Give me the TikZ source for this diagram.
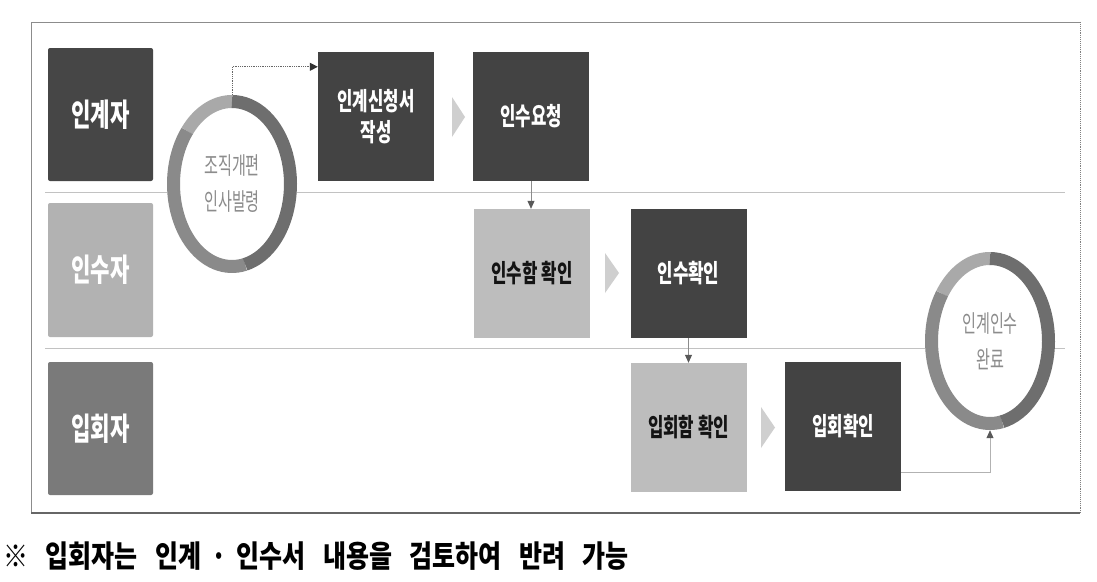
\documentclass[tikz,border=0pt]{standalone}
\usepackage{fontspec}
\newfontfamily\kr{Noto Sans CJK KR}
\usetikzlibrary{shapes.geometric,arrows.meta}
\definecolor{lanedark}{HTML}{464646}
\definecolor{lanelight}{HTML}{B2B2B2}
\definecolor{lanemid}{HTML}{7A7A7A}
\definecolor{boxdark}{HTML}{434343}
\definecolor{boxlight}{HTML}{BDBDBD}
\definecolor{ringlight}{HTML}{A9A9A9}
\definecolor{ringmid}{HTML}{8A8A8A}
\definecolor{ringdark}{HTML}{6E6E6E}
\definecolor{circtext}{HTML}{8C8C8C}
\definecolor{chev}{HTML}{CFCFCF}
\definecolor{divgray}{HTML}{C2C2C2}
\newcommand{\cnd}[2][0.67]{\scalebox{#1}[1]{#2}}
\newcommand{\ringseg}[5]{\draw[line width=13pt,#5] plot[domain=#3:#4,samples=40,variable=\t] ({#1+58.5*cos(\t)},{#2-82.5*sin(\t)});}
\tikzset{
  lanebox/.style={rectangle,rounded corners=2pt,minimum width=105pt,minimum height=133pt,inner sep=0pt,text=white,font=\kr\bfseries\fontsize{31.5}{36}\selectfont},
  procbox/.style={rectangle,minimum width=116pt,minimum height=129pt,inner sep=0pt,align=center,font=\kr\bfseries\fontsize{25}{31}\selectfont},
  darkbox/.style={procbox,fill=boxdark,text=white},
  lightbox/.style={procbox,fill=boxlight,text=black!92},
  circ/.style={ellipse,minimum width=130pt,minimum height=178pt,inner sep=0pt,fill=white,align=center,text=circtext,font=\kr\fontsize{24}{36}\selectfont},
  divider/.style={draw=divgray,line width=1pt},
  chevron/.style={fill=chev},
  dotarrow/.style={densely dotted,draw=black!60,line width=0.8pt,-{Triangle[length=8pt,width=8pt,color=black!80]}},
  flow/.style={draw=black!45,line width=0.8pt,-{Triangle[length=8pt,width=7pt,color=black!65]}},
}
\begin{document}
\begin{tikzpicture}[x=1pt,y=-1pt]
\useasboundingbox (0,0) rectangle (1097,581);
\fill[white] (0,0) rectangle (1097,581);
% frame
\draw[black!45,line width=0.9pt] (1080,22) -- (31,22) -- (31,513);
\draw[black!60,line width=1.3pt] (31,513) -- (1080,513);
\draw[black!50,densely dotted,line width=0.9pt] (1080,22) -- (1080,513);
% lane dividers
\draw[divider] (45,192) -- (1065,192);
\draw[divider] (45,348) -- (1065,348);
% lane labels
\node[lanebox,fill=lanedark] (l1) at (100.5,114.5) {\cnd{인계자}};
\node[lanebox,fill=lanelight,minimum height=134pt] (l2) at (100.5,270) {\cnd{인수자}};
\node[lanebox,fill=lanemid] (l3) at (100.5,428.5) {\cnd{입회자}};
% process boxes
\node[darkbox] (b1) at (376,116.5) {\cnd{인계신청서}\\\cnd{작성}};
\node[darkbox] (b2) at (531,116.5) {\cnd{인수요청}};
\node[lightbox] (b3) at (532,273.5) {\cnd{인수함 확인}};
\node[darkbox] (b4) at (688.5,273.5) {\cnd{인수확인}};
\node[lightbox] (b5) at (688.5,427.5) {\cnd{입회함 확인}};
\node[darkbox] (b6) at (843,426) {\cnd{입회확인}};
% chevrons
\fill[chevron] (452,97) -- (465,117) -- (452,137) -- cycle;
\fill[chevron] (605,253) -- (619,273) -- (605,293) -- cycle;
\fill[chevron] (761,407) -- (775,427.5) -- (761,448) -- cycle;
% circles
\node[circ] (c1) at (232,184) {\cnd[0.63]{조직개편}\\\cnd[0.63]{인사발령}};
\ringseg{232}{184}{90}{140}{ringlight}
\ringseg{232}{184}{140}{283}{ringmid}
\ringseg{232}{184}{283}{450}{ringdark}
\node[circ] (c2) at (990,341) {\cnd[0.63]{인계인수}\\\cnd[0.63]{완료}};
\ringseg{990}{341}{90}{145}{ringlight}
\ringseg{990}{341}{145}{282}{ringmid}
\ringseg{990}{341}{282}{450}{ringdark}
% connectors
\draw[dotarrow] (c1.north) |- ([yshift=-15pt]b1.north west);
\draw[flow] (b2.south) -- (b3.north -| b2.south);
\draw[flow] (b4.south) -- (b5.north);
\draw[flow,draw=black!30] ([yshift=18pt]b6.south east) -| (c2.south);
% note
\node[anchor=west,inner sep=0pt,font=\kr\bfseries\fontsize{30.5}{34}\selectfont] (note) at (3,556) {\cnd[0.82]{\spaceskip=0.7em\relax ※ 입회자는 인계 \kern-0.3em\relax·\kern-0.3em\relax{} 인수서 내용을 검토하여 반려 가능}};
\end{tikzpicture}
\end{document}
